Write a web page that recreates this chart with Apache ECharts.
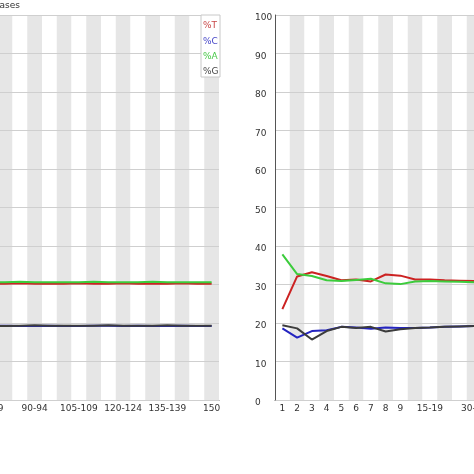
<!DOCTYPE html>
<html>
<head>
<meta charset="utf-8">
<script src="https://cdn.jsdelivr.net/npm/echarts@6/dist/echarts.min.js"></script>
<style>
  html, body { margin: 0; padding: 0; background: #fff; }
  #chart { width: 474px; height: 474px; }
</style>
</head>
<body>
<div id="chart"></div>
<script>
// position in read (bp)
const categories = ['1', '2', '3', '4', '5', '6', '7', '8', '9',
  '10-14', '15-19', '20-24', '25-29', '30-34', '35-39', '40-44', '45-49',
  '50-54', '55-59', '60-64', '65-69', '70-74', '75-79', '80-84', '85-89',
  '90-94', '95-99', '100-104', '105-109', '110-114', '115-119', '120-124',
  '125-129', '130-134', '135-139', '140-144', '145-149', '150'];

// left panel: only the part inside the picture (70-74 .. 150)
const leftCats = categories.slice(21);
const leftT = [30.2, 30.2, 30.2, 30.3, 30.2, 30.2, 30.2, 30.3, 30.2, 30.2, 30.3, 30.2, 30.2, 30.2, 30.3, 30.2, 30.2];
const leftC = [19.2, 19.2, 19.3, 19.2, 19.2, 19.3, 19.2, 19.2, 19.3, 19.3, 19.2, 19.3, 19.2, 19.2, 19.3, 19.2, 19.2];
const leftA = [30.6, 30.6, 30.6, 30.7, 30.6, 30.6, 30.6, 30.6, 30.7, 30.6, 30.6, 30.6, 30.7, 30.6, 30.6, 30.6, 30.6];
const leftG = [19.3, 19.3, 19.2, 19.3, 19.4, 19.3, 19.3, 19.3, 19.3, 19.4, 19.3, 19.3, 19.3, 19.4, 19.3, 19.3, 19.3];

// right panel: 1 .. 35-39
const rightT = [23.6, 32.1, 33.2, 32.2, 31.1, 31.3, 30.8, 32.6, 32.3, 31.3, 31.3, 31.1, 31.0, 30.9, 30.8];
const rightC = [18.6, 16.2, 17.9, 18.1, 19.0, 18.8, 18.5, 18.8, 18.7, 18.7, 18.8, 19.0, 19.1, 19.2, 19.3];
const rightA = [37.8, 32.7, 32.2, 31.1, 30.9, 31.2, 31.5, 30.3, 30.1, 30.8, 30.9, 30.8, 30.7, 30.6, 30.6];
const rightG = [19.4, 18.6, 15.7, 17.9, 19.0, 18.7, 19.0, 17.8, 18.4, 18.7, 18.8, 19.0, 19.1, 19.2, 19.3];

const yTicks = { min: 0, max: 100, interval: 10 };
const names = ['%T', '%C', '%A', '%G'];
const colors = ['#cc2222', '#2424c0', '#3ccc3c', '#3c3c3c'];
const legendColors = ['#c84848', '#4848c8', '#48c848', '#484848'];

const font = 'DejaVu Sans';

function xAxisFor(idx) {
  return {
    type: 'category',
    gridIndex: idx,
    z: 0,
    data: categories,
    boundaryGap: true,
    axisLine: { lineStyle: { color: '#666', width: 1 } },
    axisTick: { show: false },
    axisLabel: {
      interval: function (i) { return i < 9 || (i - 10) % 3 === 0; },
      margin: 4,
      fontFamily: font,
      fontSize: 9,
      color: '#333'
    },
    splitLine: { show: false },
    splitArea: {
      show: true,
      interval: 0,
      areaStyle: { color: ['#ffffff', '#e6e6e6'] }
    }
  };
}

function yAxisFor(idx) {
  return {
    type: 'value',
    gridIndex: idx,
    z: 1,
    min: yTicks.min,
    max: yTicks.max,
    interval: yTicks.interval,
    axisLine: { show: true, lineStyle: { color: '#555', width: 1 } },
    axisTick: { show: false },
    axisLabel: {
      align: 'left',
      verticalAlign: 'top',
      lineHeight: 6,
      margin: 20,
      fontFamily: font,
      fontSize: 9,
      color: '#333'
    },
    splitLine: { lineStyle: { color: '#cfcfcf', width: 1 } }
  };
}

function lineSeries(name, color, xi, data) {
  return {
    name: name,
    type: 'line',
    xAxisIndex: xi,
    yAxisIndex: xi,
    z: 3,
    data: data,
    symbol: 'none',
    silent: true,
    animation: false,
    lineStyle: { color: color, width: 2 },
    itemStyle: { color: color }
  };
}

const leftData = [leftT, leftC, leftA, leftG].map(arr => arr.map((v, i) => [leftCats[i], v]));
const rightData = [rightT, rightC, rightA, rightG];

const series = [];
names.forEach((n, k) => series.push(lineSeries(n, colors[k], 0, leftData[k])));
names.forEach((n, k) => series.push(lineSeries(n, colors[k], 1, rightData[k])));

const chart = echarts.init(document.getElementById('chart'), null, { renderer: 'canvas' });

chart.setOption({
  animation: false,
  backgroundColor: '#fff',
  grid: [
    { left: -341.5, top: 15, width: 560.5, height: 385, containLabel: false, outerBoundsMode: 'none' },
    { left: 275, top: 15, width: 560.5, height: 385, containLabel: false, outerBoundsMode: 'none' }
  ],
  xAxis: [xAxisFor(0), xAxisFor(1)],
  yAxis: [yAxisFor(0), yAxisFor(1)],
  series: series,
  graphic: [
    {
      type: 'text',
      x: 20, y: 6,
      style: {
        text: 'Sequence content across all bases',
        fill: '#333',
        font: '9px "DejaVu Sans"',
        textAlign: 'right',
        textVerticalAlign: 'middle'
      }
    },
    {
      type: 'rect',
      x: 201, y: 15,
      shape: { width: 19, height: 62 },
      style: { fill: '#fff', stroke: '#c8c8c8', lineWidth: 1 },
      z: 10
    }
  ].concat(names.map((n, k) => ({
    type: 'text',
    x: 203,
    y: 26 + k * 15.3,
    z: 11,
    style: {
      text: n,
      fill: legendColors[k],
      font: '9px "DejaVu Sans"',
      textVerticalAlign: 'middle'
    }
  })))
});
</script>
</body>
</html>
